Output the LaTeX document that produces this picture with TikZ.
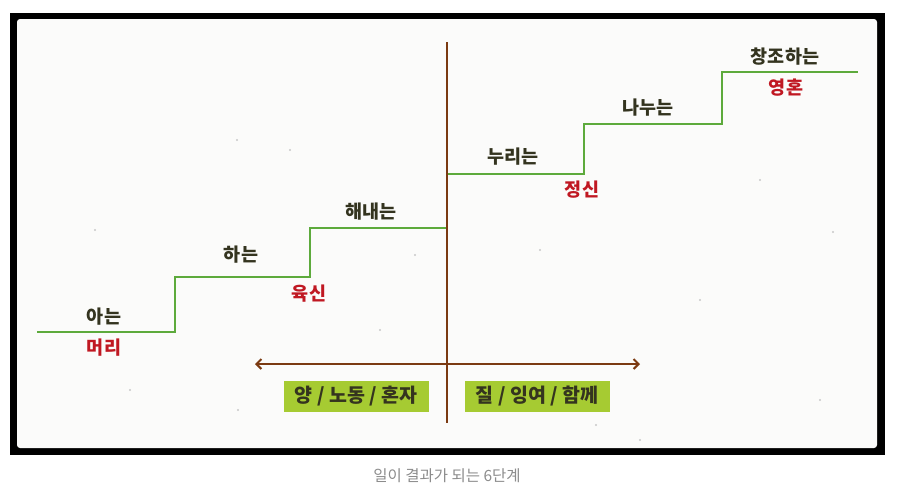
\documentclass[tikz,border=0pt]{standalone}
\usepackage{fontspec}
\setmainfont{Noto Sans CJK KR}
\usetikzlibrary{positioning,arrows.meta}

\definecolor{stepgreen}{HTML}{5DAA3C}
\definecolor{axisbrown}{HTML}{7B3A12}
\definecolor{tagfill}{HTML}{A6CB32}
\definecolor{realmred}{HTML}{C01822}
\definecolor{verbdark}{HTML}{34341F}
\definecolor{paper}{HTML}{FBFBFA}
\definecolor{speck}{HTML}{C8C8C8}

\tikzset{
    stair/.style={stepgreen, line width=2pt},
    axis/.style={axisbrown, line width=2pt},
    verb/.style={font=\fontsize{18.5}{22}\selectfont\bfseries, text=verbdark, inner sep=0pt},
    realm/.style={font=\fontsize{18.5}{22}\selectfont\bfseries, text=realmred, inner sep=0pt},
    tag/.style={fill=tagfill, font=\fontsize{19.5}{22}\selectfont\bfseries, text=verbdark,
        minimum width=145pt, minimum height=31pt, inner sep=0pt},
}

\begin{document}
\begin{tikzpicture}[x=1pt, y=-1pt]
    \useasboundingbox (0,0) rectangle (902,491);
    % frame and paper
    \fill[black] (10,13) rectangle (885,455);
    \fill[paper, rounded corners=3pt] (17,19) rectangle (877,448);
    \foreach \px/\py in {237/140, 415/255, 833/232, 238/410, 596/425, 130/390,
        700/300, 290/150, 540/250, 760/180, 95/230, 380/330, 640/440, 820/400}
        \fill[speck] (\px,\py) circle (1.2pt);

    % stair corners
    \coordinate (s0) at (37,332);
    \coordinate[right=138pt of s0] (s1);
    \coordinate[above=55pt of s1] (s2);
    \coordinate[right=135pt of s2] (s3);
    \coordinate[above=49pt of s3] (s4);
    \coordinate[right=137pt of s4] (s5);
    \coordinate[above=54pt of s5] (s6);
    \coordinate[right=137pt of s6] (s7);
    \coordinate[above=50pt of s7] (s8);
    \coordinate[right=138pt of s8] (s9);
    \coordinate[above=52pt of s9] (s10);
    \coordinate[right=136pt of s10] (s11);
    \draw[stair] (s0) -- (s1) -- (s2) -- (s3) -- (s4) -- (s5) -- (s6)
        -- (s7) -- (s8) -- (s9) -- (s10) -- (s11);

    % axes
    \coordinate (top) at (447,42);
    \coordinate (bottom) at (447,423);
    \coordinate (west) at (255,364);
    \coordinate (east) at (640,364);
    \draw[axis] (top) -- (bottom);
    \draw[axis, {Straight Barb[length=5pt,width=10pt]}-{Straight Barb[length=5pt,width=10pt]}] (west) -- (east);

    % step words
    \node[verb] (know) at (104,317) {아는};
    \node[realm] (head) at (104,348) {머리};
    \node[verb] (do) at (241,255) {하는};
    \node[realm] (body) at (309,294) {육신};
    \node[verb] (achieve) at (371,212) {해내는};
    \node[verb] (enjoy) at (513,157) {누리는};
    \node[realm] (mind) at (582,190) {정신};
    \node[verb] (share) at (648,108) {나누는};
    \node[verb] (create) at (785,57) {창조하는};
    \node[realm] (soul) at (786,88) {영혼};

    % tags
    \node[tag] (quantity) at (356,396) {양 / 노동 / 혼자};
    \node[tag] (quality) at (537,396) {질 / 잉여 / 함께};

    % caption
    \node[font=\fontsize{15.5}{18}\selectfont, text=black!45] (caption) at (447,476) {일이 결과가 되는 6단계};
\end{tikzpicture}
\end{document}
